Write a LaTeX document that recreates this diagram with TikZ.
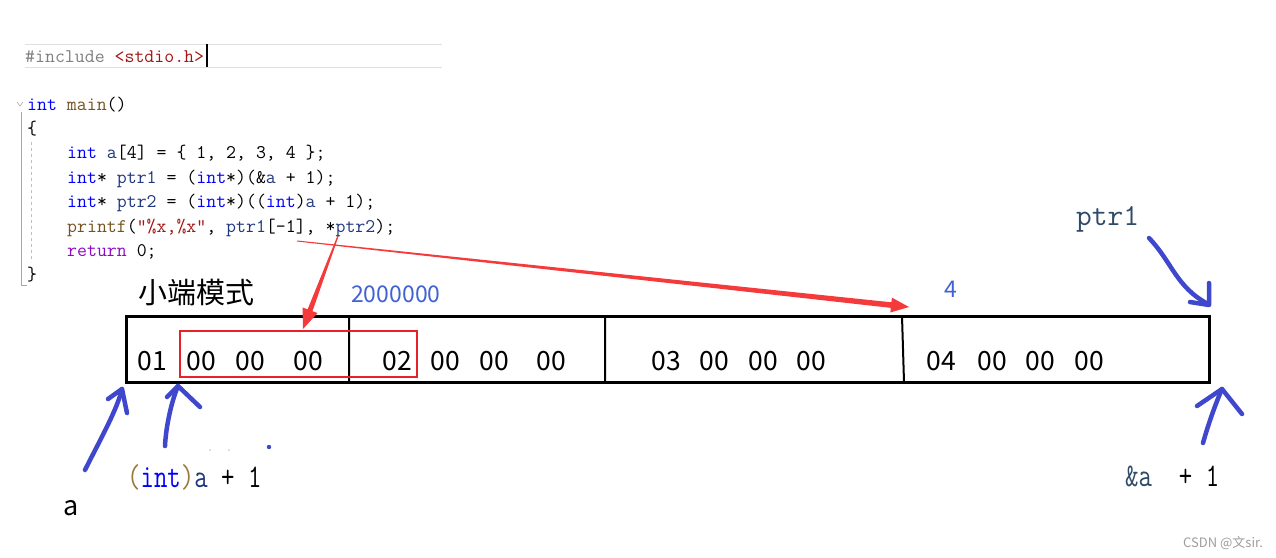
\documentclass[tikz,border=0pt]{standalone}
\usepackage{fontspec}
\usepackage{graphicx}
\usetikzlibrary{calc}
\newfontfamily\cjkfont{Noto Sans CJK SC}
\definecolor{kw}{HTML}{0000FF}
\definecolor{fn}{HTML}{74531F}
\definecolor{str}{HTML}{A31515}
\definecolor{var}{HTML}{1F377F}
\definecolor{pp}{HTML}{808080}
\definecolor{ret}{HTML}{8F08C4}
\definecolor{paren}{HTML}{9A7A3C}
\definecolor{handblue}{HTML}{3F48CC}
\definecolor{numblue}{HTML}{4062D4}
\definecolor{slate}{HTML}{2E4A68}
\definecolor{boxred}{HTML}{E8202A}
\definecolor{arrowred}{HTML}{F43A3A}
\tikzset{
        code/.style = {anchor=base west, inner sep=0pt,
            font=\ttfamily\fontsize{19.3}{21}\selectfont},
        handcode/.style = {anchor=base west, inner sep=0pt,
            font=\ttfamily\fontsize{33}{36}\selectfont},
        byte/.style = {anchor=base, inner sep=0pt,
            font=\cjkfont\fontsize{26.5}{30}\selectfont},
        label/.style = {anchor=base west, inner sep=0pt,
            font=\cjkfont\fontsize{23}{26}\selectfont},
        hand/.style = {draw=handblue, line width=4.5, line cap=round, line join=round},
        redarrow/.style = {fill=arrowred},
    }

\begin{document}
\begin{tikzpicture}[x=1pt,y=-1pt]
    \fill[white] (0,0) rectangle (1276,557);
    \useasboundingbox (0,0) rectangle (1276,557);

    % code
    \draw[black!12] (25,44) -- (442,44) (25,67) -- (442,67);
    \draw[line width=1.2] (207,44) -- (207,67);
    \draw[black!45] (17,102) -- (20,106) -- (23,102);
    \draw[black!35] (21,112) -- (21,285) -- (27,285);
    \draw[black!25, dashed] (31,142) -- (31,262);

    \node[code] (l1) at (25,62) {\textcolor{pp}{\#include} \textcolor{str}{<stdio.h>}};
    \node[code] (l2) at (27,110) {\textcolor{kw}{int} \textcolor{fn}{main}()};
    \node[code] (l3) at (27,134) {\{};
    \node[code] (l4) at (67,158) {\textcolor{kw}{int} \textcolor{var}{a}[4] = \{ 1, 2, 3, 4 \};};
    \node[code] (l5) at (67,183) {\textcolor{kw}{int}* \textcolor{var}{ptr1} = (\textcolor{kw}{int}*)(\&\textcolor{var}{a} + 1);};
    \node[code] (l6) at (67,207) {\textcolor{kw}{int}* \textcolor{var}{ptr2} = (\textcolor{kw}{int}*)((\textcolor{kw}{int})\textcolor{var}{a} + 1);};
    \node[code] (l7) at (67,232) {\textcolor{fn}{printf}(\textcolor{str}{"\%x,\%x"}, \textcolor{var}{ptr1}[-1], *\textcolor{var}{ptr2});};
    \node[code] (l8) at (67,256) {\textcolor{ret}{return} 0;};
    \node[code] (l9) at (27,280) {\}};

    % labels
    \node[anchor=base west, inner sep=0pt, font=\cjkfont\fontsize{29}{32}\selectfont] (mode) at (138,303) {小端模式};
    \node[label, text=numblue] (val) at (351,302) {2000000};
    \node[label, text=numblue] (four) at (944,297) {4};
    \node[anchor=base west, inner sep=0pt, text=slate,
          font=\ttfamily\fontsize{30.5}{33}\selectfont] (ptrone) at (1076,225) {ptr1};

    % memory
    \draw[line width=3] (126,316) rectangle (1209,382);
    \draw[line width=2] (349,316) -- (349,382)
                        (605,316) -- (605,382)
                        (902,316) -- (904,382);
    \draw[boxred, line width=2.5] (180,331) rectangle (417,377);
    \foreach \t/\x [count=\i] in {01/152,00/201,00/250,00/308,02/397,00/445,00/494,00/551,
                                  03/666,00/714,00/763,00/811,04/941,00/992,00/1040,00/1089}
        \node[byte] (byte\i) at (\x,370) {\t};

    % red arrows
    \coordinate (s1) at (338,236);
    \coordinate (e1) at (303,329);
    \coordinate (h1) at ($(e1)!20pt!(s1)$);
    \fill[redarrow] ($(s1)!0.6pt!90:(e1)$) -- ($(h1)!2.6pt!90:(e1)$) -- ($(h1)!8pt!90:(e1)$) -- (e1)
        -- ($(h1)!8pt!-90:(e1)$) -- ($(h1)!2.6pt!-90:(e1)$) -- ($(s1)!0.6pt!-90:(e1)$) -- cycle;
    \coordinate (s2) at (297,241);
    \coordinate (e2) at (909,307);
    \coordinate (h2) at ($(e2)!18pt!(s2)$);
    \fill[redarrow] ($(s2)!0.5pt!90:(e2)$) -- ($(h2)!2.8pt!90:(e2)$) -- ($(h2)!7.5pt!90:(e2)$) -- (e2)
        -- ($(h2)!7.5pt!-90:(e2)$) -- ($(h2)!2.8pt!-90:(e2)$) -- ($(s2)!0.5pt!-90:(e2)$) -- cycle;

    % blue arrows
    \draw[hand] (85,470) .. controls (100,440) and (117,410) .. (122,389);
    \draw[hand] (108,399) -- (122,389) -- (127,413);
    \draw[hand] (165,446) .. controls (166,425) and (172,400) .. (178,386);
    \draw[hand] (167,397) -- (178,386) -- (200,407);
    \draw[hand] (1203,443) .. controls (1208,425) and (1215,405) .. (1222,389);
    \draw[hand] (1197,406) -- (1222,389) -- (1242,414);
    \draw[hand] (1149,238) .. controls (1172,262) and (1176,287) .. (1208,304);
    \draw[hand] (1209,283) -- (1209,305) -- (1190,302);

    \fill[handblue!30] (210,450) circle (1) (229,450) circle (1);
    \fill[handblue] (269,447) circle (2.2);

    \node[handcode] (cast) at (127,487) {\scalebox{0.79}[1]{\textcolor{paren}{(}\textcolor{kw}{int}\textcolor{paren}{)}\textcolor{var}{a} + 1}};
    \node[handcode] (addr) at (1125,486) {\scalebox{0.79}[1]{\textcolor{slate}{\&a}\ \ + 1}};
    \node[anchor=base west, inner sep=0pt, font=\cjkfont\fontsize{27}{30}\selectfont] (arr) at (63,515) {a};
    \node[anchor=base west, inner sep=0pt, text=black!38,
          font=\cjkfont\fontsize{13}{15}\selectfont] (mark) at (1183,547) {CSDN @文sir.};
\end{tikzpicture}
\end{document}
